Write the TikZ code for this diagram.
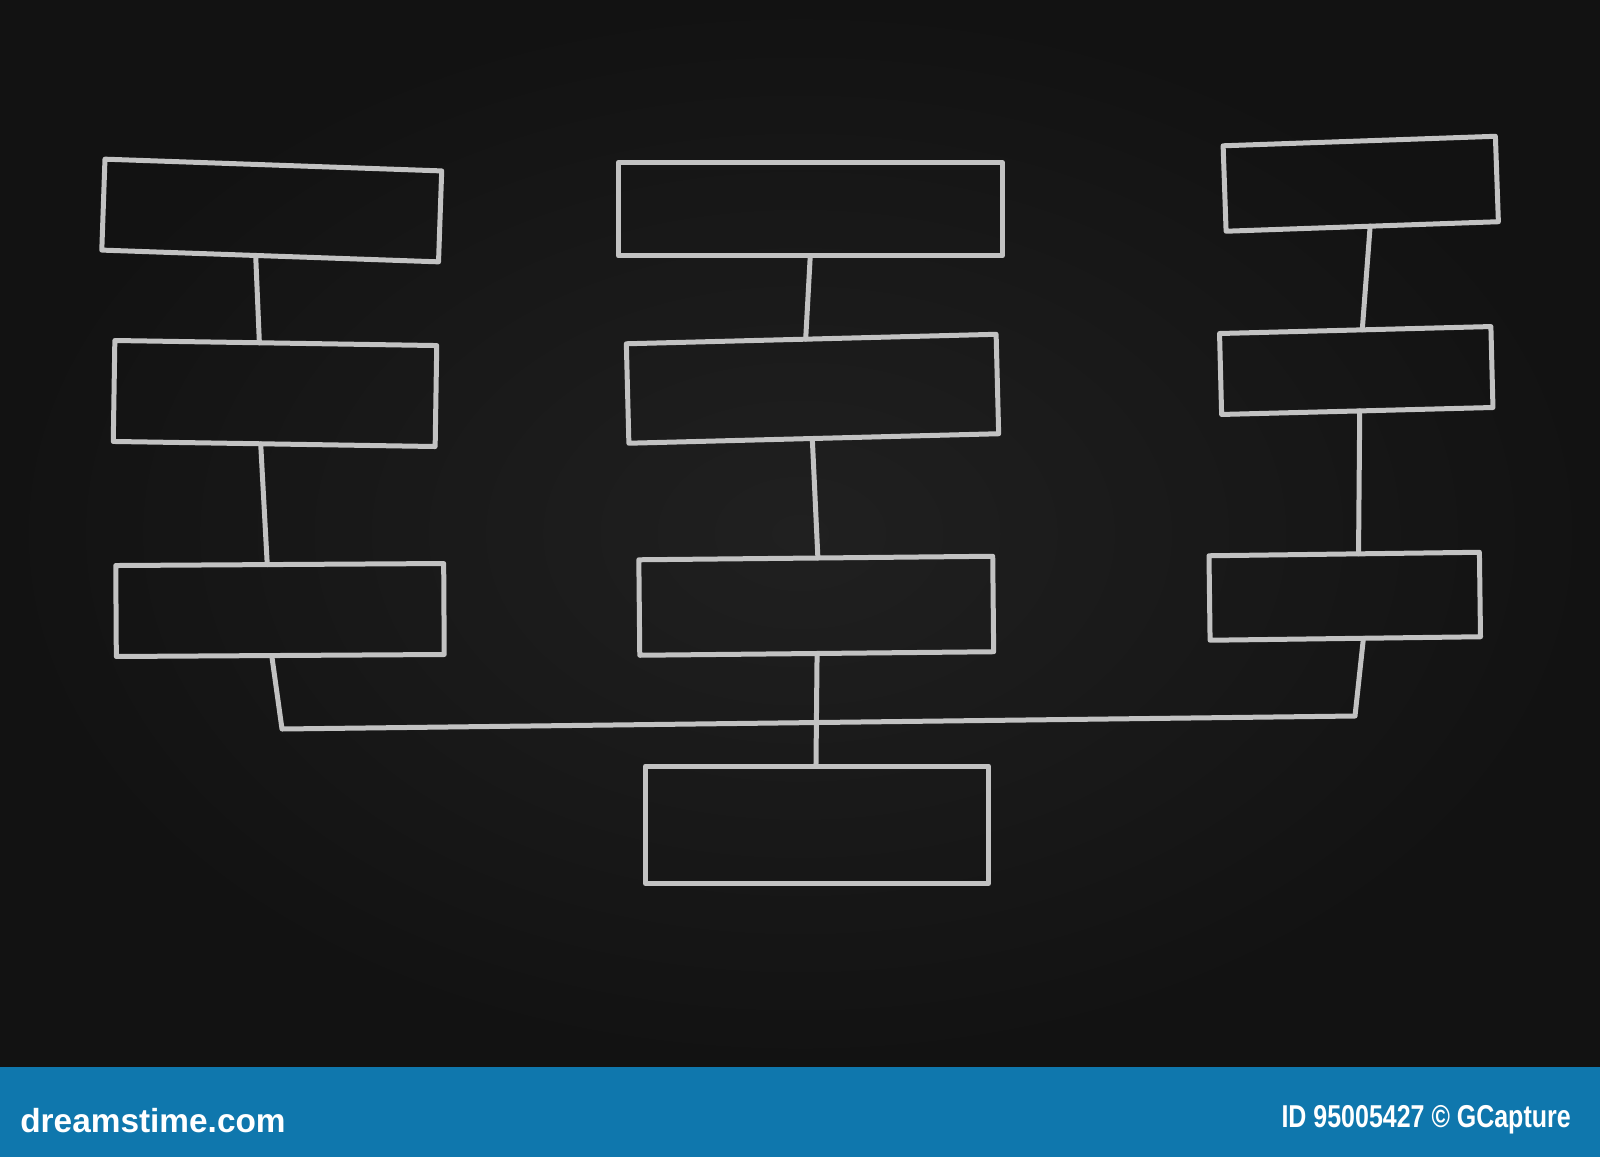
\documentclass[tikz,border=0pt]{standalone}
\usepackage{fontspec}
\setmainfont{Liberation Sans}
\usetikzlibrary{calc}
\definecolor{board}{HTML}{121212}
\definecolor{bglight}{HTML}{202020}
\definecolor{chalk}{HTML}{C2C2C2}
\definecolor{barblue}{HTML}{0F77AD}
\begin{document}
\begin{tikzpicture}[x=0.02cm,y=-0.02cm,
  chalkbox/.style={draw=chalk, line width=0.1cm, rectangle, inner sep=0pt, outer sep=0pt, line join=round},
  chalkline/.style={draw=chalk, line width=0.1cm, line cap=round, line join=round},
  bartext/.style={text=white, inner sep=0pt, font=\bfseries\fontsize{18}{18}\selectfont}]
\useasboundingbox (0,0) rectangle (1600,1157);
\shade[inner color=bglight, outer color=board] (0,0) rectangle (1600,1067);
\fill[barblue] (0,1067) rectangle (1600,1157);

% left column
\node[chalkbox, minimum width=6.74cm, minimum height=1.82cm, rotate=-2.0] (L1) at (271.75,210.5) {};
\node[chalkbox, minimum width=6.44cm, minimum height=2.02cm, rotate=-0.9] (L2) at (275,393.5) {};
\node[chalkbox, minimum width=6.56cm, minimum height=1.82cm, rotate=0.35] (L3) at (280,610) {};
% middle column
\node[chalkbox, minimum width=7.68cm, minimum height=1.87cm, rotate=0] (M1) at (810.25,209.25) {};
\node[chalkbox, minimum width=7.40cm, minimum height=1.99cm, rotate=1.47] (M2) at (812.5,388.75) {};
\node[chalkbox, minimum width=7.08cm, minimum height=1.91cm, rotate=0.57] (M3) at (816.25,605.75) {};
\node[chalkbox, minimum width=6.86cm, minimum height=2.35cm, rotate=0] (M4) at (817,824.75) {};
% right column
\node[chalkbox, minimum width=5.45cm, minimum height=1.71cm, rotate=2.0] (R1) at (1360.75,183.75) {};
\node[chalkbox, minimum width=5.43cm, minimum height=1.62cm, rotate=1.47] (R2) at (1356.25,370.5) {};
\node[chalkbox, minimum width=5.41cm, minimum height=1.69cm, rotate=0.74] (R3) at (1344.75,596.25) {};

% connectors
\draw[chalkline] ($(L1.south west)!0.457!(L1.south east)$) -- ($(L2.north west)!0.449!(L2.north east)$);
\draw[chalkline] ($(L2.south west)!0.458!(L2.south east)$) -- ($(L3.north west)!0.462!(L3.north east)$);
\draw[chalkline] ($(M1.south west)!0.500!(M1.south east)$) -- ($(M2.north west)!0.485!(M2.north east)$);
\draw[chalkline] ($(M2.south west)!0.496!(M2.south east)$) -- ($(M3.north west)!0.506!(M3.north east)$);
\draw[chalkline] ($(M3.south west)!0.501!(M3.south east)$) -- ($(M4.north west)!0.497!(M4.north east)$);
\draw[chalkline] ($(R1.south west)!0.529!(R1.south east)$) -- ($(R2.north west)!0.526!(R2.north east)$);
\draw[chalkline] ($(R2.south west)!0.509!(R2.south east)$) -- ($(R3.north west)!0.553!(R3.north east)$);

\coordinate (jl) at (282,729);
\coordinate (jr) at (1355,716);
\draw[chalkline] ($(L3.south west)!0.474!(L3.south east)$) -- (jl) -- (jr) -- ($(R3.south west)!0.567!(R3.south east)$);

% bottom bar texts
\node[bartext, anchor=west, font=\bfseries\fontsize{19}{19}\selectfont] (logo) at (20,1121) {dreamstime.com};
\node[bartext, anchor=east, xscale=0.79] (idtext) at (1571,1120) {ID 95005427 © GCapture};
\end{tikzpicture}
\end{document}
